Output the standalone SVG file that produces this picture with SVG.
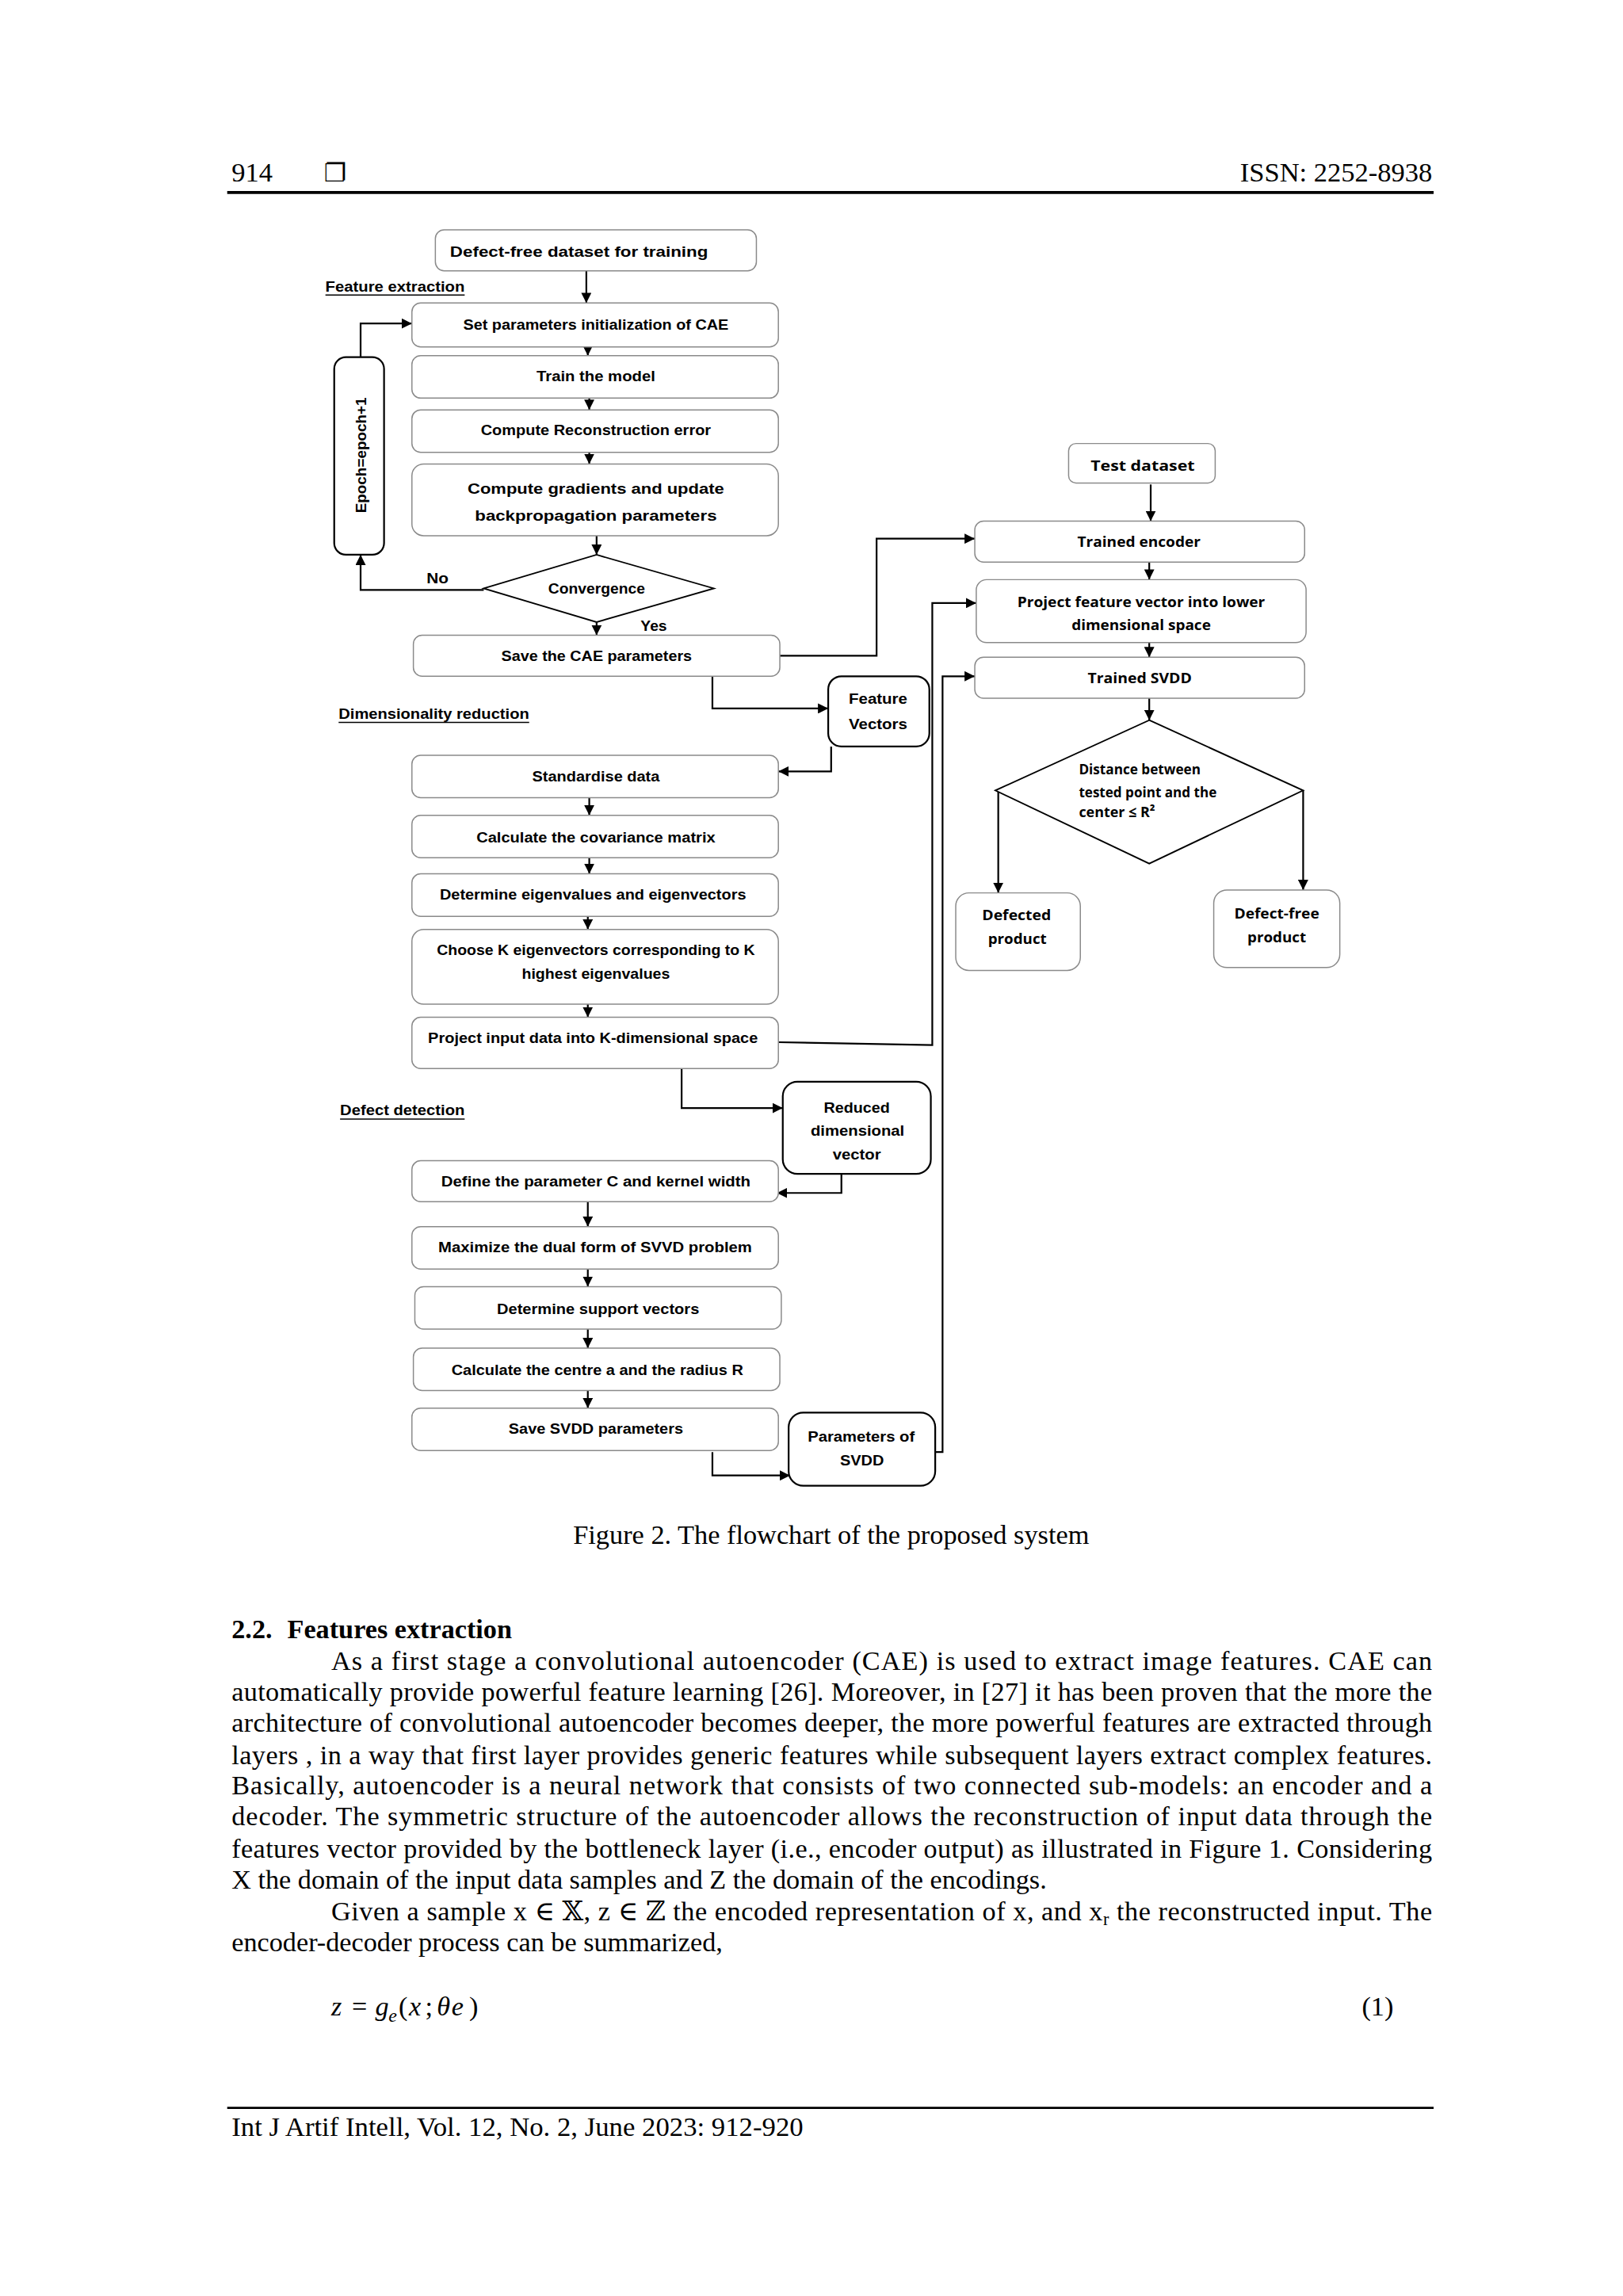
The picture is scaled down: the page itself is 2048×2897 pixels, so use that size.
<svg xmlns="http://www.w3.org/2000/svg" width="2048" height="2897" viewBox="0 0 2048 2897">
<style>
.box{fill:#fff;stroke:#8a8a8a;stroke-width:0.8}
.bbox{fill:#fff;stroke:#000;stroke-width:1.2}
.dia{fill:#fff;stroke:#000;stroke-width:1}
.t{font-family:"Liberation Sans",Arial,sans-serif;font-weight:bold;font-size:10px;fill:#000}
.o{font-family:"Open Sans","Liberation Sans",sans-serif;font-weight:bold;font-size:10px;fill:#000}
.conn{fill:none;stroke:#000;stroke-width:1.2}
.ul{stroke:#000;stroke-width:0.8}
.pg{font-family:"Liberation Serif","Times New Roman","DejaVu Serif",serif;font-size:18.5px;fill:#000}
</style>
<defs>
<marker id="ah" viewBox="0 0 10 10" refX="10" refY="5" markerWidth="7" markerHeight="7" markerUnits="userSpaceOnUse" orient="auto"><path d="M0,0 L10,5 L0,10 z" fill="#000"/></marker>
</defs>
<rect width="2048" height="2897" fill="#fff"/>
<g transform="scale(1.84972,1.84692)">
<g id="page-header">
<text class="pg" x="158" y="124" textLength="28" lengthAdjust="spacingAndGlyphs">914</text>
<text x="221" y="124" style="font-family:'DejaVu Sans',sans-serif;font-size:17px">❐</text>
<text class="pg" x="846" y="124" textLength="131" lengthAdjust="spacingAndGlyphs">ISSN: 2252-8938</text>
<line x1="155" y1="131.5" x2="978" y2="131.5" stroke="#000" stroke-width="2"/>
</g>

<g id="connectors">
<path class="conn" marker-end="url(#ah)" d="M400,185 V207"/>
<path class="conn" marker-end="url(#ah)" d="M401,236 V243"/>
<path class="conn" marker-end="url(#ah)" d="M402,271 V280"/>
<path class="conn" marker-end="url(#ah)" d="M402,308 V317"/>
<path class="conn" marker-end="url(#ah)" d="M407,366 V379"/>
<path class="conn" marker-end="url(#ah)" d="M407,424 V434"/>
<path class="conn" marker-end="url(#ah)" d="M330,403 H246 V379"/>
<path class="conn" marker-end="url(#ah)" d="M246,244 V221 H281"/>
<path class="conn" marker-end="url(#ah)" d="M532,448 H598 V368 H665"/>
<path class="conn" marker-end="url(#ah)" d="M486,462 V484 H565"/>
<path class="conn" marker-end="url(#ah)" d="M567,510 V527 H531"/>
<path class="conn" marker-end="url(#ah)" d="M402,545 V557"/>
<path class="conn" marker-end="url(#ah)" d="M402,586 V597"/>
<path class="conn" marker-end="url(#ah)" d="M401,626 V635"/>
<path class="conn" marker-end="url(#ah)" d="M401,685 V695"/>
<path class="conn" marker-end="url(#ah)" d="M531,712 L636,714 L636,412 H666"/>
<path class="conn" marker-end="url(#ah)" d="M465,730 V757 H534"/>
<path class="conn" marker-end="url(#ah)" d="M574,802 V815 H530"/>
<path class="conn" marker-end="url(#ah)" d="M401,821 V838"/>
<path class="conn" marker-end="url(#ah)" d="M401,866 V879"/>
<path class="conn" marker-end="url(#ah)" d="M401,907 V921"/>
<path class="conn" marker-end="url(#ah)" d="M401,949 V962"/>
<path class="conn" marker-end="url(#ah)" d="M486,992 V1008 H539"/>
<path class="conn" marker-end="url(#ah)" d="M638,992 H643 V462 H665"/>
<path class="conn" marker-end="url(#ah)" d="M785,331 V356"/>
<path class="conn" marker-end="url(#ah)" d="M784,384 V396"/>
<path class="conn" marker-end="url(#ah)" d="M784,439 V449"/>
<path class="conn" marker-end="url(#ah)" d="M784,477 V492"/>
<path class="conn" marker-end="url(#ah)" d="M681,540 V610"/>
<path class="conn" marker-end="url(#ah)" d="M889,540 V608"/>
</g>

<g id="n-dataset"><rect class="box" x="297" y="157" width="219" height="28" rx="6"/>
<text class="t" x="307" y="175.5" font-size="12" textLength="176" lengthAdjust="spacingAndGlyphs">Defect-free dataset for training</text></g>
<g id="lbl-feature-extraction"><text class="t" x="222" y="199" font-size="10.5" textLength="95" lengthAdjust="spacingAndGlyphs">Feature extraction</text><line class="ul" x1="222" y1="201.5" x2="317" y2="201.5"/></g>
<g id="n-setparams"><rect class="box" x="281" y="207" width="250" height="30" rx="6"/>
<text class="t" x="316" y="225.5" textLength="181" lengthAdjust="spacingAndGlyphs">Set parameters initialization of CAE</text></g>
<g id="n-train"><rect class="box" x="281" y="243" width="250" height="29" rx="6"/>
<text class="t" x="366" y="260.5" textLength="81" lengthAdjust="spacingAndGlyphs">Train the model</text></g>
<g id="n-recon"><rect class="box" x="281" y="280" width="250" height="29" rx="6"/>
<text class="t" x="328" y="297.5" textLength="157" lengthAdjust="spacingAndGlyphs">Compute Reconstruction error</text></g>
<g id="n-gradients"><rect class="box" x="281" y="317" width="250" height="49" rx="8"/>
<text class="t" x="319" y="337.5" font-size="12" textLength="175" lengthAdjust="spacingAndGlyphs">Compute gradients and update</text>
<text class="t" x="324" y="355.5" font-size="12" textLength="165" lengthAdjust="spacingAndGlyphs">backpropagation parameters</text></g>
<g id="n-epoch"><rect class="bbox" x="228" y="244" width="34" height="135" rx="8"/>
<text class="t" transform="translate(249.6,311) rotate(-90)" x="-39.5" y="0" font-size="10.5" textLength="79" lengthAdjust="spacingAndGlyphs">Epoch=epoch+1</text></g>
<g id="lbl-no"><text class="t" x="291" y="398.6" textLength="15" lengthAdjust="spacingAndGlyphs">No</text></g>
<g id="n-convergence"><polygon class="dia" points="330,402 407,379 487,402 407,425"/>
<text class="t" x="374" y="405.6" textLength="66" lengthAdjust="spacingAndGlyphs">Convergence</text></g>
<g id="lbl-yes"><text class="t" x="437" y="431" textLength="18" lengthAdjust="spacingAndGlyphs">Yes</text></g>
<g id="n-savecae"><rect class="box" x="282" y="434" width="250" height="28" rx="6"/>
<text class="t" x="342" y="451.6" textLength="130" lengthAdjust="spacingAndGlyphs">Save the CAE parameters</text></g>
<g id="n-featvec"><rect class="bbox" x="565" y="462" width="69" height="48" rx="9"/>
<text class="t" x="579" y="481" font-size="11" textLength="40" lengthAdjust="spacingAndGlyphs">Feature</text>
<text class="t" x="579" y="498" font-size="11" textLength="40" lengthAdjust="spacingAndGlyphs">Vectors</text></g>
<g id="lbl-dimred"><text class="t" x="231" y="491" font-size="10.5" textLength="130" lengthAdjust="spacingAndGlyphs">Dimensionality reduction</text><line class="ul" x1="231" y1="493.5" x2="361" y2="493.5"/></g>
<g id="n-standardise"><rect class="box" x="281" y="516" width="250" height="29" rx="6"/>
<text class="t" x="363" y="533.6" textLength="87" lengthAdjust="spacingAndGlyphs">Standardise data</text></g>
<g id="n-covariance"><rect class="box" x="281" y="557" width="250" height="29" rx="6"/>
<text class="t" x="325" y="575.6" textLength="163" lengthAdjust="spacingAndGlyphs">Calculate the covariance matrix</text></g>
<g id="n-eigen"><rect class="box" x="281" y="597" width="250" height="29" rx="6"/>
<text class="t" x="300" y="614.6" textLength="209" lengthAdjust="spacingAndGlyphs">Determine eigenvalues and eigenvectors</text></g>
<g id="n-choosek"><rect class="box" x="281" y="635" width="250" height="51" rx="8"/>
<text class="t" x="298" y="652.6" textLength="217" lengthAdjust="spacingAndGlyphs">Choose K eigenvectors corresponding to K</text>
<text class="t" x="356" y="668.6" textLength="101" lengthAdjust="spacingAndGlyphs">highest eigenvalues</text></g>
<g id="n-projectinput"><rect class="box" x="281" y="695" width="250" height="35" rx="6"/>
<text class="t" x="292" y="712.6" textLength="225" lengthAdjust="spacingAndGlyphs">Project input data into K-dimensional space</text></g>
<g id="n-reduced"><rect class="bbox" x="534" y="739" width="101" height="63" rx="10"/>
<text class="t" x="562" y="760" font-size="11" textLength="45" lengthAdjust="spacingAndGlyphs">Reduced</text>
<text class="t" x="553" y="776" font-size="11" textLength="64" lengthAdjust="spacingAndGlyphs">dimensional</text>
<text class="t" x="568" y="792" font-size="11" textLength="33" lengthAdjust="spacingAndGlyphs">vector</text></g>
<g id="lbl-defdet"><text class="t" x="232" y="762" font-size="10.5" textLength="85" lengthAdjust="spacingAndGlyphs">Defect detection</text><line class="ul" x1="232" y1="764.5" x2="317" y2="764.5"/></g>
<g id="n-define"><rect class="box" x="281" y="793" width="250" height="28" rx="6"/>
<text class="t" x="301" y="810.6" textLength="211" lengthAdjust="spacingAndGlyphs">Define the parameter C and kernel width</text></g>
<g id="n-maximize"><rect class="box" x="281" y="838" width="250" height="29" rx="6"/>
<text class="t" x="299" y="855.6" textLength="214" lengthAdjust="spacingAndGlyphs">Maximize the dual form of SVVD problem</text></g>
<g id="n-support"><rect class="box" x="283" y="879" width="250" height="29" rx="6"/>
<text class="t" x="339" y="897.6" textLength="138" lengthAdjust="spacingAndGlyphs">Determine support vectors</text></g>
<g id="n-centre"><rect class="box" x="282" y="921" width="250" height="29" rx="6"/>
<text class="t" x="308" y="939.6" textLength="199" lengthAdjust="spacingAndGlyphs">Calculate the centre a and the radius R</text></g>
<g id="n-savesvdd"><rect class="box" x="281" y="962" width="250" height="29" rx="6"/>
<text class="t" x="347" y="979.6" textLength="119" lengthAdjust="spacingAndGlyphs">Save SVDD parameters</text></g>
<g id="n-paramsvdd"><rect class="bbox" x="538" y="965" width="100" height="50" rx="10"/>
<text class="t" x="551" y="985" font-size="11" textLength="73" lengthAdjust="spacingAndGlyphs">Parameters of</text>
<text class="t" x="573" y="1001" font-size="11" textLength="30" lengthAdjust="spacingAndGlyphs">SVDD</text></g>

<g id="n-testdata"><rect class="box" x="729" y="303" width="100" height="27" rx="5"/>
<text class="o" x="744" y="321.5" font-size="12" textLength="71" lengthAdjust="spacingAndGlyphs">Test dataset</text></g>
<g id="n-trainedenc"><rect class="box" x="665" y="356" width="225" height="28" rx="6"/>
<text class="o" x="735" y="373.6" textLength="84" lengthAdjust="spacingAndGlyphs">Trained encoder</text></g>
<g id="n-projectfeat"><rect class="box" x="666" y="396" width="225" height="43" rx="7"/>
<text class="o" x="694" y="414.6" textLength="169" lengthAdjust="spacingAndGlyphs">Project feature vector into lower</text>
<text class="o" x="731" y="430.6" textLength="95" lengthAdjust="spacingAndGlyphs">dimensional space</text></g>
<g id="n-trainedsvdd"><rect class="box" x="665" y="449" width="225" height="28" rx="6"/>
<text class="o" x="742" y="466.6" font-size="10.5" textLength="71" lengthAdjust="spacingAndGlyphs">Trained SVDD</text></g>
<g id="n-distance"><polygon class="dia" points="784,492 889,540 784,590 679,540"/>
<text class="o" x="736" y="529" font-size="9.5" textLength="83" lengthAdjust="spacingAndGlyphs">Distance between</text>
<text class="o" x="736" y="544.5" font-size="9.5" textLength="94" lengthAdjust="spacingAndGlyphs">tested point and the</text>
<text class="o" x="736" y="558.5" font-size="9.5" textLength="52" lengthAdjust="spacingAndGlyphs">center ≤ R²</text></g>
<g id="n-defected"><rect class="box" x="652" y="610" width="85" height="53" rx="9"/>
<text class="o" x="670" y="628.6" font-size="11" textLength="47" lengthAdjust="spacingAndGlyphs">Defected</text>
<text class="o" x="674" y="644.6" font-size="11" textLength="40" lengthAdjust="spacingAndGlyphs">product</text></g>
<g id="n-defectfree"><rect class="box" x="828" y="608" width="86" height="53" rx="9"/>
<text class="o" x="842" y="627.6" font-size="11" textLength="58" lengthAdjust="spacingAndGlyphs">Defect-free</text>
<text class="o" x="851" y="643.6" font-size="11" textLength="40" lengthAdjust="spacingAndGlyphs">product</text></g>

<g id="page-text">
<text class="pg" x="391" y="1055" textLength="352" lengthAdjust="spacingAndGlyphs">Figure 2. The flowchart of the proposed system</text>
<text class="pg" x="158" y="1119" font-weight="bold">2.2.<tspan x="196">Features extraction</tspan></text>
<text class="pg" x="226" y="1141" textLength="751" lengthAdjust="spacing">As a first stage a convolutional autoencoder (CAE) is used to extract image features. CAE can</text>
<text class="pg" x="158" y="1162" textLength="819" lengthAdjust="spacing">automatically provide powerful feature learning [26]. Moreover, in [27] it has been proven that the more the</text>
<text class="pg" x="158" y="1183" textLength="819" lengthAdjust="spacing">architecture of convolutional autoencoder becomes deeper, the more powerful features are extracted through</text>
<text class="pg" x="158" y="1205" textLength="819" lengthAdjust="spacing">layers , in a way that first layer provides generic features while subsequent layers extract complex features.</text>
<text class="pg" x="158" y="1226" textLength="819" lengthAdjust="spacing">Basically, autoencoder is a neural network that consists of two connected sub-models: an encoder and a</text>
<text class="pg" x="158" y="1247" textLength="819" lengthAdjust="spacing">decoder. The symmetric structure of the autoencoder allows the reconstruction of input data through the</text>
<text class="pg" x="158" y="1269" textLength="819" lengthAdjust="spacing">features vector provided by the bottleneck layer (i.e., encoder output) as illustrated in Figure 1. Considering</text>
<text class="pg" x="158" y="1290" textLength="556" lengthAdjust="spacing">X the domain of the input data samples and Z the domain of the encodings.</text>
<text class="pg" x="226" y="1312" textLength="751" lengthAdjust="spacing">Given a sample x ∈ 𝕏, z ∈ ℤ the encoded representation of x, and x<tspan font-size="12" dy="3">r</tspan><tspan dy="-3"> the reconstructed input. The</tspan></text>
<text class="pg" x="158" y="1333" textLength="335" lengthAdjust="spacing">encoder-decoder process can be summarized,</text>
<text class="pg" y="1377"><tspan x="226" font-style="italic">z</tspan><tspan x="240">=</tspan><tspan x="256" font-style="italic">g</tspan><tspan x="265" font-style="italic" font-size="13" dy="4">e</tspan><tspan x="272" dy="-4">(</tspan><tspan x="279" font-style="italic">x</tspan><tspan x="290">;</tspan><tspan x="298" font-style="italic">θ</tspan><tspan x="308" font-style="italic">e</tspan><tspan x="320">)</tspan></text>
<text class="pg" x="929" y="1377">(1)</text>
</g>
<g id="page-footer">
<line x1="155" y1="1440" x2="978" y2="1440" stroke="#000" stroke-width="1.5"/>
<text class="pg" x="158" y="1459" textLength="390" lengthAdjust="spacingAndGlyphs">Int J Artif Intell, Vol. 12, No. 2, June 2023: 912-920</text>
</g>
</g>
</svg>
